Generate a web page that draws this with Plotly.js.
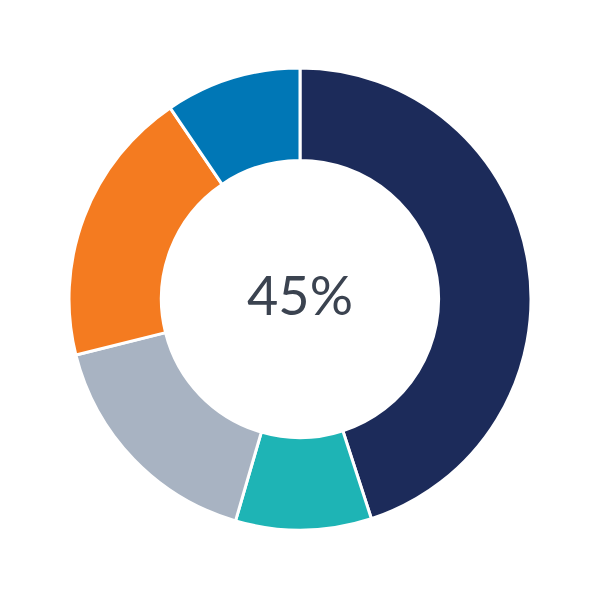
<!DOCTYPE html>
<html>
<head>
<meta charset="utf-8">
<script src="https://cdn.plot.ly/plotly-3.0.1.min.js"></script>
<style>html,body{margin:0;padding:0;background:#fff;}#chart{width:600px;height:599px;}</style>
</head>
<body>
<div id="chart"></div>
<script>
const labels = ["Segment A", "Segment B", "Segment C", "Segment D", "Segment E"];
const values = [45, 9.5, 16.6, 19.4, 9.5];
const colors = ["#1c2b5a", "#1eb4b5", "#a8b3c2", "#f47b20", "#0077b6"];
const centerText = "45%";

Plotly.newPlot("chart", [{
  type: "pie",
  labels: labels,
  values: values,
  hole: 0.6,
  sort: false,
  direction: "clockwise",
  rotation: 0,
  textinfo: "none",
  hoverinfo: "none",
  marker: {colors: colors, line: {color: "#ffffff", width: 3}}
}], {
  width: 600, height: 599,
  margin: {l: 69, r: 69, t: 68, b: 69},
  showlegend: false,
  paper_bgcolor: "#ffffff",
  annotations: [{
    text: centerText, x: 0.5, y: 0.5, xref: "paper", yref: "paper",
    yshift: 5,
    showarrow: false, font: {family: "Lato", size: 54, color: "#3b4350"}
  }]
}, {staticPlot: true});
</script>
</body>
</html>
